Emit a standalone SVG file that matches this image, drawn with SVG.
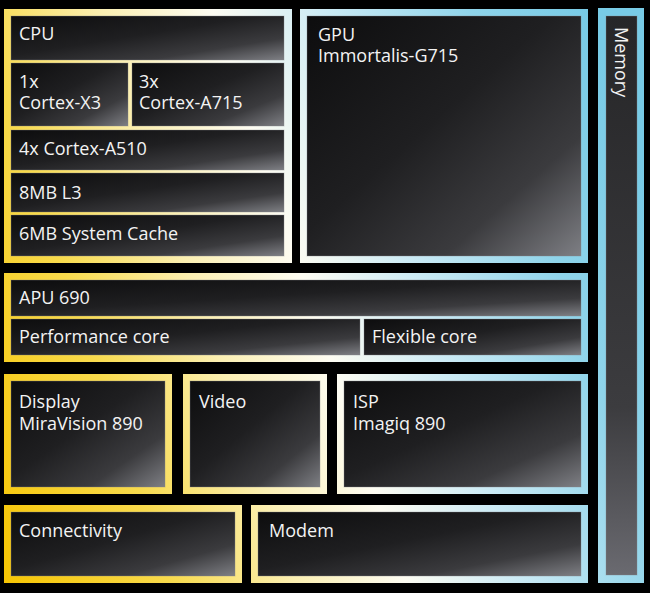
<svg xmlns="http://www.w3.org/2000/svg" width="650" height="593" viewBox="0 0 650 593">
  <defs>
    <linearGradient id="edge" gradientUnits="userSpaceOnUse" x1="0" y1="593" x2="706" y2="354">
      <stop offset="0" stop-color="#f6c400"/>
      <stop offset="0.22" stop-color="#f8da4c"/>
      <stop offset="0.38" stop-color="#fbefb2"/>
      <stop offset="0.52" stop-color="#fdfcf2"/>
      <stop offset="0.66" stop-color="#cdebf5"/>
      <stop offset="0.85" stop-color="#8fd4ea"/>
      <stop offset="1" stop-color="#78cbe6"/>
    </linearGradient>
    <linearGradient id="dark" x1="0" y1="0" x2="1" y2="1">
      <stop offset="0" stop-color="#0d0d0e"/>
      <stop offset="0.45" stop-color="#1f1f21"/>
      <stop offset="0.75" stop-color="#3b3b3e"/>
      <stop offset="1" stop-color="#7e7f84"/>
    </linearGradient>
    <linearGradient id="memdark" x1="0" y1="0" x2="0" y2="1">
      <stop offset="0" stop-color="#262628"/>
      <stop offset="0.7" stop-color="#3c3c3f"/>
      <stop offset="1" stop-color="#6a6a70"/>
    </linearGradient>
  </defs>
  <style>
    .frame { fill: url(#edge); }
    .cell { fill: url(#dark); stroke: #8a8a8e; stroke-opacity: 0.45; stroke-width: 0.8; }
    .lbl { font-family: "Open Sans", "Noto Sans", "DejaVu Sans", sans-serif; font-size: 18px; fill: #f3f3f3; }
  </style>
  <rect width="650" height="593" fill="#000"/>

  <g id="cpu">
    <rect class="frame" x="4" y="9" width="288" height="254"/>
    <rect class="cell" x="11" y="16" width="273" height="44"/>
    <rect class="cell" x="11" y="63" width="117" height="63"/>
    <rect class="cell" x="132" y="63" width="152" height="63"/>
    <rect class="cell" x="11" y="130" width="273" height="40"/>
    <rect class="cell" x="11" y="173" width="273" height="39"/>
    <rect class="cell" x="11" y="215" width="273" height="41"/>
    <text class="lbl" x="19" y="40">CPU</text>
    <text class="lbl" x="19" y="88">1x</text>
    <text class="lbl" x="19" y="109">Cortex-X3</text>
    <text class="lbl" x="139" y="88">3x</text>
    <text class="lbl" x="139" y="109">Cortex-A715</text>
    <text class="lbl" x="19" y="155">4x Cortex-A510</text>
    <text class="lbl" x="19" y="199">8MB L3</text>
    <text class="lbl" x="19" y="240">6MB System Cache</text>
  </g>

  <g id="gpu">
    <rect class="frame" x="300" y="9" width="288" height="254"/>
    <rect class="cell" x="307" y="16" width="274" height="240"/>
    <text class="lbl" x="318" y="41">GPU</text>
    <text class="lbl" x="318" y="62">Immortalis-G715</text>
  </g>

  <g id="memory">
    <rect class="frame" x="598" y="8" width="46" height="575"/>
    <rect x="606" y="16" width="31" height="559" fill="url(#memdark)" stroke="#8a8a8e" stroke-opacity="0.45" stroke-width="0.8"/>
    <text class="lbl" transform="translate(615 27) rotate(90)">Memory</text>
  </g>

  <g id="apu">
    <rect class="frame" x="4" y="273" width="584" height="89"/>
    <rect class="cell" x="11" y="280" width="570" height="36"/>
    <rect class="cell" x="11" y="319" width="349" height="36"/>
    <rect class="cell" x="364" y="319" width="217" height="36"/>
    <text class="lbl" x="19" y="304">APU 690</text>
    <text class="lbl" x="19" y="343">Performance core</text>
    <text class="lbl" x="372" y="343">Flexible core</text>
  </g>

  <g id="display">
    <rect class="frame" x="4" y="374" width="168" height="120"/>
    <rect class="cell" x="11" y="381" width="154" height="106"/>
    <text class="lbl" x="19" y="408">Display</text>
    <text class="lbl" x="19" y="430">MiraVision 890</text>
  </g>

  <g id="video">
    <rect class="frame" x="183" y="374" width="144" height="120"/>
    <rect class="cell" x="190" y="381" width="130" height="106"/>
    <text class="lbl" x="199" y="408">Video</text>
  </g>

  <g id="isp">
    <rect class="frame" x="337" y="374" width="251" height="120"/>
    <rect class="cell" x="344" y="381" width="237" height="106"/>
    <text class="lbl" x="353" y="408">ISP</text>
    <text class="lbl" x="353" y="430">Imagiq 890</text>
  </g>

  <g id="connectivity">
    <rect class="frame" x="4" y="505" width="238" height="78"/>
    <rect class="cell" x="11" y="512" width="224" height="64"/>
    <text class="lbl" x="19" y="537">Connectivity</text>
  </g>

  <g id="modem">
    <rect class="frame" x="251" y="505" width="337" height="78"/>
    <rect class="cell" x="258" y="512" width="323" height="64"/>
    <text class="lbl" x="269" y="537">Modem</text>
  </g>

  <g id="connectors"/>
</svg>
